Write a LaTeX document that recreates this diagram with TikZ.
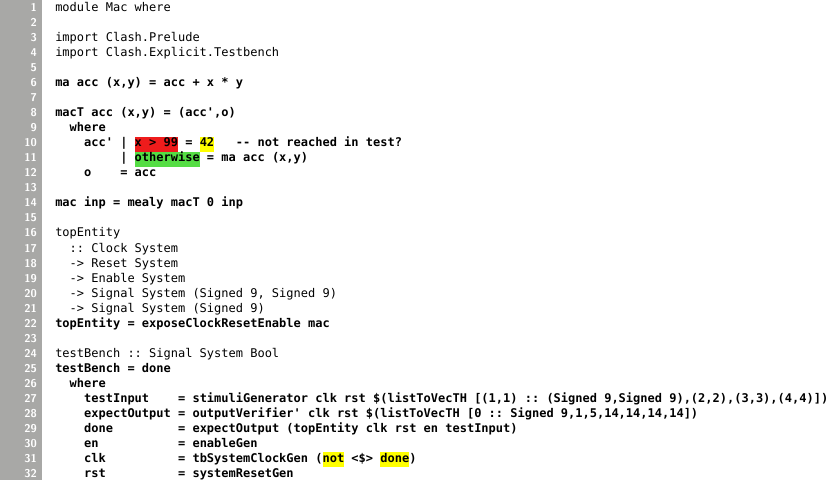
\documentclass[tikz,border=0pt]{standalone}
\usepackage{fontspec}
\setmonofont{DejaVu Sans Mono}
\definecolor{gut}{HTML}{A8A8A6}
\definecolor{hred}{HTML}{EE1C1C}
\definecolor{hyel}{HTML}{FFFF00}
\definecolor{hgrn}{HTML}{55DD44}
\newcommand\hl[2]{{\setlength\fboxsep{0pt}\colorbox{#1}{\rule[-3.6pt]{0pt}{11.25pt}#2}}}
\tikzset{code/.style={anchor=base west,inner sep=0pt,font=\fontsize{9pt}{11pt}\ttfamily},
 bcode/.style={code,font=\fontsize{9pt}{11pt}\ttfamily\bfseries},
 num/.style={anchor=base east,inner sep=0pt,text=white,font=\fontsize{8.5pt}{10pt}\sffamily\bfseries}}
\begin{document}
\begin{tikzpicture}[x=0.75pt,y=-0.75pt]
\useasboundingbox[fill=white] (0,0) rectangle (834,495);
\fill[gut] (0,0) rectangle (42,480);
\foreach \i in {1,...,32}{\node[num] (n\i) at (37,{12+15*(\i-1)}) {\i};}
\newcommand\cl[3]{\node[#1] (l#2) at (55,{12+15*(#2-1)}) {#3};}
\cl{code}{1}{module~Mac~where}
\cl{code}{3}{import~Clash.Prelude}
\cl{code}{4}{import~Clash.Explicit.Testbench}
\cl{bcode}{6}{ma~acc~(x,y)~=~acc~+~x~*~y}
\cl{bcode}{8}{macT~acc~(x,y)~=~(acc',o)}
\cl{bcode}{9}{~~where}
\cl{bcode}{10}{~~~~acc'~|~\hl{hred}{x~>~99}~=~\hl{hyel}{42}~~~--~not~reached~in~test?}
\cl{bcode}{11}{~~~~~~~~~|~\hl{hgrn}{otherwise}~=~ma~acc~(x,y)}
\cl{bcode}{12}{~~~~o~~~~=~acc}
\cl{bcode}{14}{mac~inp~=~mealy~macT~0~inp}
\cl{code}{16}{topEntity}
\cl{code}{17}{~~::~Clock~System}
\cl{code}{18}{~~->~Reset~System}
\cl{code}{19}{~~->~Enable~System}
\cl{code}{20}{~~->~Signal~System~(Signed~9,~Signed~9)}
\cl{code}{21}{~~->~Signal~System~(Signed~9)}
\cl{bcode}{22}{topEntity~=~exposeClockResetEnable~mac}
\cl{code}{24}{testBench~::~Signal~System~Bool}
\cl{bcode}{25}{testBench~=~done}
\cl{bcode}{26}{~~where}
\cl{bcode}{27}{~~~~testInput~~~~=~stimuliGenerator~clk~rst~\$(listToVecTH~[(1,1)~::~(Signed~9,Signed~9),(2,2),(3,3),(4,4)])}
\cl{bcode}{28}{~~~~expectOutput~=~outputVerifier'~clk~rst~\$(listToVecTH~[0~::~Signed~9,1,5,14,14,14,14])}
\cl{bcode}{29}{~~~~done~~~~~~~~~=~expectOutput~(topEntity~clk~rst~en~testInput)}
\cl{bcode}{30}{~~~~en~~~~~~~~~~~=~enableGen}
\cl{bcode}{31}{~~~~clk~~~~~~~~~~=~tbSystemClockGen~(\hl{hyel}{not}~<\$>~\hl{hyel}{done})}
\cl{bcode}{32}{~~~~rst~~~~~~~~~~=~systemResetGen}
\end{tikzpicture}
\end{document}
